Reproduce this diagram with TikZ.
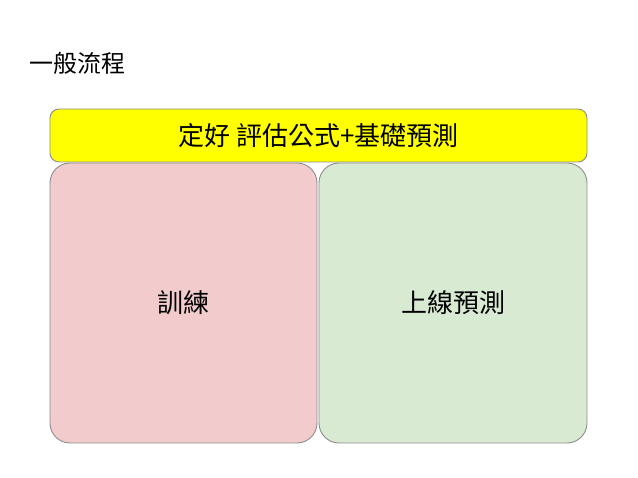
\documentclass[tikz,border=0pt]{standalone}
\usepackage{fontspec}
\usepackage{tikz}
\usetikzlibrary{positioning}
\newfontfamily\cjk{Noto Sans CJK TC}
\definecolor{hdryellow}{RGB}{255,255,0}
\definecolor{trainpink}{RGB}{242,204,204}
\definecolor{servegreen}{RGB}{217,234,211}
\definecolor{boxgray}{RGB}{140,140,140}
\tikzset{
	panel/.style={draw=boxgray,line width=0.9pt,inner sep=0pt,font=\cjk\fontsize{26}{30}\selectfont},
}
\begin{document}
\begin{tikzpicture}[x=1pt,y=-1pt]
	\useasboundingbox (0,0) rectangle (638,478);
	\node[anchor=west,inner sep=0pt,font=\cjk\fontsize{24}{28}\selectfont] (title) at (29,63) {一般流程};
	\node[panel,fill=hdryellow,rounded corners=9pt,minimum width=537pt,minimum height=53pt] (rule) at (318.5,135.5) {定好 評估公式+基礎預測};
	\node[panel,fill=trainpink,rounded corners=20pt,minimum width=267pt,minimum height=280pt] (train) at (183.5,303) {訓練};
	\node[panel,fill=servegreen,rounded corners=20pt,minimum width=268pt,minimum height=280pt] (serve) at (453,303) {上線預測};
\end{tikzpicture}
\end{document}
